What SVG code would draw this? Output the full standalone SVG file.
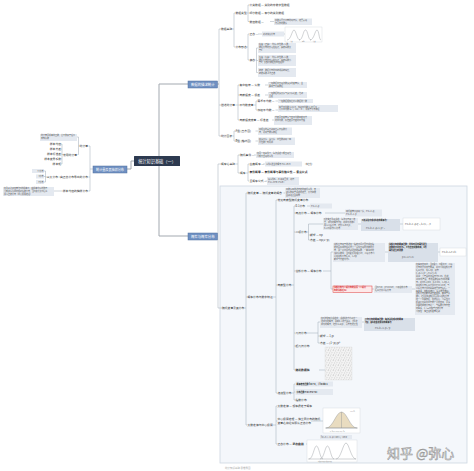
<svg xmlns="http://www.w3.org/2000/svg" width="474" height="471" viewBox="0 0 474 471">
<style>
text{font-family:"Noto Sans CJK SC","Noto Sans",sans-serif;}
.ln{stroke:#9ea8b4;stroke-width:0.5;fill:none}
.lm{stroke:#a3a9b0;stroke-width:1;fill:none}
.t{font-size:2.8px;fill:#333}
.tb{font-size:2.8px;fill:#222;font-weight:bold}
.bx{fill:#e4e9f0}
.bb{fill:#d9e0e9}
.bt{font-size:2px;fill:#555}
.btb{font-size:2px;fill:#222;font-weight:bold}
.img{fill:#fff;stroke:#cfd5dc;stroke-width:0.4}
.cv{fill:none;stroke:#8a8f96;stroke-width:0.4}
.br rect{fill:#6f90c2;stroke:#52709f;stroke-width:0.5}
.br text{font-size:3.4px;fill:#fff;text-anchor:middle}
</style>
<defs>
<pattern id="noise" width="5" height="5" patternUnits="userSpaceOnUse">
<rect width="5" height="5" fill="#f2f2f2"/>
<circle cx="0.7" cy="0.9" r="0.35" fill="#9a9a9a"/><circle cx="3.1" cy="0.4" r="0.3" fill="#777"/>
<circle cx="2.0" cy="2.3" r="0.35" fill="#aaa"/><circle cx="4.3" cy="2.9" r="0.3" fill="#888"/>
<circle cx="1.1" cy="4.1" r="0.3" fill="#999"/><circle cx="3.6" cy="4.4" r="0.35" fill="#b0b0b0"/>
</pattern>
</defs>
<rect width="474" height="471" fill="#fff"/>
<rect x="220" y="186" width="247" height="277" fill="#f4f7fb" stroke="#cdd6e1" stroke-width="0.8"/>

<g id="connectors">
<path class="lm" d="M134,161H131V169H127M159,84V236M159,84H188M159,236H188M217.5,84H219M217.5,236H218"/>
<path class="ln" d="M93,169H90M90,146V191M90,146H88.5M90,177H88.5M90,191H88.5
M79.5,146H78.5M78.5,137V154.5M78.5,137H77M78.5,154.5H77.5M63,154.5H62M62,144V164M62,144H61M62,149H61M62,154H61M62,159H61M62,164H61
M60,177H58.5M47,177H45.5M45.5,171V182M45.5,171H44M45.5,176.5H44M45.5,182H44M62.5,191H54
M219,29V136M219,29H221M219,105H221M219,136H221
M232.5,29H234M234,13V47M234,13H235.5M234,47H235.5
M247,13H248M248,5V21.5M248,5H249.5M248,13H249.5M248,21.5H249.5M270,21.5H274
M247,47H248M248,34V60M248,34H249.5M248,60H249.5M258,34H262M284,34H285
M255.5,60H256.5M256.5,48V72.5M256.5,48H258M256.5,60.5H258M256.5,72.5H258
M235.5,105H238M238,85V120M238,85H239.5M238,95H239.5M238,105H239.5M238,120H239.5
M265,85H268M265,95H268M254,105H256M256,101V110M256,101H257.5M256,110H257.5M275.5,101H278M275.5,110H278M272,120H274
M232.5,136H234M234,131V141M234,131H235.5M234,141H235.5M255.5,131H258M255.5,141H258
M218,164V308M218,164H221M218,308H222
M235.5,164H238M238,155V173M238,155H240M238,173H240M254,155H256
M246,173H248M248,164V181M248,164H249.5M248,172H249.5M248,181H249.5M263,164H265M265.5,181H267
M244.5,308H246M246,193V425M246,193H247.5M246,297H247.5M246,425H247.5M283.5,193H285
M273,297H276M276,200V393M276,200H277.5M276,285H277.5M276,393H277.5
M292,285H294M294,206V370M294,206H295.5M294,213H295.5M294,232H295.5M294,271H295.5M294,333H295.5M294,346H295.5M294,370H295.5
M307,206H310M325,213H345
M307,232H308.5M308.5,224V240M308.5,224H323M308.5,235H310M308.5,240H310M358,224H361M400,224H403
M323,271H331M331,252V289M331,252H333M331,289H333M385,252H388M438,252H440M372,289H374M412,289H415
M307,333H318M318,322V343M318,322H320M318,336H320M318,343H320M362,322H364
M319,370H325
M292,393H294M294,384V400M294,384H295.5M294,392H295.5M294,400H295.5
M273,425H276M276,406V444M276,406H277.5M276,421H277.5M276,444H277.5M311,421H323M306,444H307"/>
</g>

<g id="root"><rect x="134" y="156" width="46" height="10" fill="#2d3a50" rx="0.5"/><text x="157" y="162.6" style="font-size:4.2px;fill:#fff;text-anchor:middle">统计知识基础（一）</text></g>
<g id="b-top" class="br"><rect x="188" y="81" width="29.5" height="7"/><text x="202.75" y="85.7">数据的描述统计</text></g>
<g id="b-bottom" class="br"><rect x="188" y="233" width="29.5" height="7"/><text x="202.75" y="237.7">概率与概率分布</text></g>
<g id="b-left" class="br"><rect x="93" y="166" width="34" height="7"/><text x="110" y="170.7" style="font-size:3.1px">统计量及其抽样分布</text></g>

<g id="left-nodes">
<g id="l1"><text class="t" x="88" y="147" text-anchor="end">统计量</text></g>
<g id="l1a"><rect class="bx" x="40" y="134" width="37" height="7"/><text class="bt" x="41" y="136.4"><tspan>统计量是样本的函数，它不依赖于任何</tspan><tspan x="41" dy="2.9">未知参数</tspan></text></g>
<g id="l1b"><text class="t" x="77" y="155.5" text-anchor="end">常用统计量</text></g>
<g id="l1b-c"><text class="t" x="61" y="145" text-anchor="end">样本均值</text><text class="t" x="61" y="150" text-anchor="end">样本方差</text><text class="t" x="61" y="155" text-anchor="end">样本标准差</text><text class="t" x="61" y="160" text-anchor="end">样本变异系数</text><text class="t" x="61" y="165" text-anchor="end">样本矩</text></g>
<g id="l2"><text class="t" x="88" y="178" text-anchor="end">由正态分布导出的分布</text></g>
<g id="l2a"><text class="t" x="58" y="178" text-anchor="end">三大分布</text></g>
<g id="l2b"><rect class="bx" x="32" y="169" width="12" height="4"/><text class="bt" x="43.5" y="171.7" text-anchor="end">χ²分布</text><rect class="bx" x="36" y="174.5" width="8" height="4"/><text class="bt" x="43.5" y="177.2" text-anchor="end">t分布</text><rect class="bx" x="36" y="180" width="8" height="4"/><text class="bt" x="43.5" y="182.7" text-anchor="end">F分布</text></g>
<g id="l3"><text class="t" x="88" y="192" text-anchor="end">样本均值的抽样分布</text></g>
<g id="l3a"><rect class="bx" x="3" y="187" width="51" height="9"/><text class="bt" x="4" y="189.3"><tspan>在重复选取容量为n的样本时，由样本均值的所有</tspan><tspan x="4" dy="2.9">可能取值形成的相对频数分布，当n充分大时近似</tspan><tspan x="4" dy="2.9">服从正态分布（中心极限定理）</tspan></text></g>
</g>

<g id="top-nodes">
<g id="t1"><text class="t" x="221" y="30">数据基础</text></g>
<g id="t1a"><text class="t" x="235.5" y="14">数据类型</text></g>
<g id="t1a1"><text class="t" x="249.5" y="6">分类数据 — 类别的非数字型数据</text></g>
<g id="t1a2"><text class="t" x="249.5" y="14">顺序数据 — 有序的类别数据</text></g>
<g id="t1a3"><text class="t" x="249.5" y="22.5">数值数据 —</text><rect class="bx" x="274" y="18.5" width="38" height="6.5"/><text class="bt" x="275" y="20.9"><tspan>按数字尺度测量的观察值，结果表现</tspan><tspan x="275" dy="2.9">为具体的数值</tspan></text></g>
<g id="t1b"><text class="t" x="235.5" y="48">分布形态</text></g>
<g id="t1b1"><text class="t" x="249.5" y="35">正态 —</text><rect class="bx" x="262" y="31.5" width="22" height="5"/><text class="bt" x="263" y="34.7">对称钟形分布</text>
<rect class="img" x="285" y="27" width="37" height="15"/>
<path class="cv" d="M287,40C291,40 292,30 294,30S297,40 300,40M299,40C303,40 303,30 305.5,30S308,40 311,40M310,40C314,40 315,30 317,30S319,40 321,40"/>
<text x="290" y="41.6" style="font-size:1.3px;fill:#777">左偏</text><text x="302" y="41.6" style="font-size:1.3px;fill:#777">对称</text><text x="313" y="41.6" style="font-size:1.3px;fill:#777">右偏</text></g>
<g id="t1b2"><text class="t" x="249.5" y="61">偏态</text></g>
<g id="t1b2a"><rect class="bx" x="258" y="43" width="38" height="10"/><text class="bt" x="259" y="45.4"><tspan>右偏（正偏）：均值&gt;中位数&gt;众数，</tspan><tspan x="259" dy="2.9">数据分布的长尾在右边，偏态系数大</tspan><tspan x="259" dy="2.9">于0</tspan></text></g>
<g id="t1b2b"><rect class="bx" x="258" y="55" width="38" height="11"/><text class="bt" x="259" y="57.6"><tspan>左偏（负偏）：均值&lt;中位数&lt;众数，</tspan><tspan x="259" dy="2.9">数据分布的长尾在左边，偏态系数小</tspan><tspan x="259" dy="2.9">于0，大部分数据集中在右侧</tspan></text></g>
<g id="t1b2c"><rect class="bx" x="258" y="68" width="38" height="9"/><text class="bt" x="259" y="70.6"><tspan>峰态：数据分布的平峰或尖峰程度，</tspan><tspan x="259" dy="2.9">峰态系数=0为正态</tspan></text></g>
<g id="t2"><text class="t" x="221" y="106">描述统计量</text></g>
<g id="t2a"><text class="t" x="239.5" y="86">集中趋势 — 众数</text><rect class="bx" x="268" y="82" width="39" height="6"/><text class="bt" x="269" y="84.3"><tspan>一组数据中出现次数最多的变量值，主</tspan><tspan x="269" dy="2.9">要用于分类数据</tspan></text></g>
<g id="t2b"><text class="t" x="239.5" y="96">离散程度 — 极差</text><rect class="bx" x="268" y="92" width="39" height="6"/><text class="bt" x="269" y="94.3"><tspan>一组数据的最大值与最小值之差，也称</tspan><tspan x="269" dy="2.9">全距</tspan></text></g>
<g id="t2c"><text class="t" x="239.5" y="106">平均数度量</text></g>
<g id="t2c1"><text class="t" x="257.5" y="102">算术平均数 —</text><rect class="bx" x="278" y="99" width="35" height="4"/><text class="bt" x="279" y="101.7">一组数据相加后除以数据的个数</text></g>
<g id="t2c2"><text class="t" x="257.5" y="111">加权平均数 —</text><rect class="bx" x="278" y="105" width="60" height="7"/><text class="bt" x="279" y="107.5"><tspan>简单平均数 x̄=Σxᵢ/n，加权平均数 x̄=ΣMᵢfᵢ/n</tspan><tspan x="279" dy="2.9">几何平均数 G=ⁿ√(x₁x₂…xₙ)，适用于比率数据</tspan></text></g>
<g id="t2d"><text class="t" x="239.5" y="121">离散程度度量 — 标准差</text><rect class="bx" x="274" y="116" width="38" height="9"/><text class="bt" x="275" y="118.4"><tspan>方差是各变量值与其平均数离差平方</tspan><tspan x="275" dy="2.9">的平均数，标准差是方差的平方根</tspan></text></g>
<g id="t3"><text class="t" x="221" y="137">统计图表</text></g>
<g id="t3a"><text class="t" x="235.5" y="132">A型 (直方图)</text><rect class="bx" x="258" y="127.5" width="34" height="7.5"/><text class="bt" x="259" y="130"><tspan>用矩形的宽度和高度表示频数分</tspan><tspan x="259" dy="2.9">布，适用于数值数据</tspan></text></g>
<g id="t3b"><text class="t" x="235.5" y="142">B型 (箱线图)</text><rect class="bx" x="258" y="137.5" width="37" height="7.5"/><text class="bt" x="259" y="140"><tspan>由最大值、最小值、中位数和两个四</tspan><tspan x="259" dy="2.9">分位数绘制而成</tspan></text></g>
</g>

<g id="prob-nodes">
<g id="e1"><text class="t" x="221" y="165">概率论基础</text></g>
<g id="e1a"><text class="t" x="240" y="156">随机事件 —</text><rect class="bx" x="256" y="152" width="38" height="6"/><text class="bt" x="257" y="154.3"><tspan>在同一组条件下，每次试验可能出现也</tspan><tspan x="257" dy="2.9">可能不出现的事件</tspan></text></g>
<g id="e1b"><text class="t" x="240" y="174">概率</text></g>
<g id="e1b1"><text class="t" x="249.5" y="165">古典概率 —</text><rect class="bx" x="265" y="161.5" width="37" height="5"/><text class="bt" x="266" y="164.7">事件A发生的概率 P(A)=m/n</text><text class="bt" x="305" y="164.7">(独立性)</text></g>
<g id="e1b2"><text class="tb" x="249.5" y="173">条件概率 — 条件概率与事件独立性 — 乘法公式</text></g>
<g id="e1b3"><text class="t" x="249.5" y="182">全概率公式 —</text><rect class="bx" x="267" y="177" width="32" height="8"/><text class="bt" x="268" y="179.6"><tspan>设事件B₁…Bₙ两两互斥，则有</tspan><tspan x="268" dy="2.9">P(A)=ΣP(Bᵢ)P(A|Bᵢ)</tspan></text></g>
</g>

<g id="panel-nodes">
<g id="p0"><text class="t" x="222" y="309">随机变量及其分布</text></g>
<g id="p1"><text class="t" x="247.5" y="194">随机变量 — 随机变量的概念</text><rect class="bx" x="285" y="188" width="35" height="10"/><text class="bt" x="286" y="190.4"><tspan>用数值来描述特定的随机事件，其</tspan><tspan x="286" dy="2.9">取值依赖于试验的结果，分为离散</tspan><tspan x="286" dy="2.9">型和连续型两种</tspan></text></g>
<g id="p2"><text class="t" x="247.5" y="298">概率分布与数字特征</text></g>
<g id="q1"><text class="t" x="277.5" y="201">常见离散型随机变量分布</text></g>
<g id="q2"><text class="t" x="277.5" y="286">离散型分布</text></g>
<g id="r1"><text class="t" x="295.5" y="207">0-1分布</text><rect class="bx" x="310" y="203.5" width="22" height="5"/><text class="bt" x="311" y="206.7">P(X=1)=p</text></g>
<g id="r2"><text class="t" x="295.5" y="214">两点分布 — 概率分布</text><rect class="bx" x="345" y="209.5" width="37" height="7"/><text class="bt" x="346" y="212"><tspan>随机变量只取两个值，P(X=1)=p，</tspan><tspan x="346" dy="2.9">P(X=0)=1−p</tspan></text></g>
<g id="r3"><text class="t" x="295.5" y="233">二项分布</text><text class="t" x="310" y="236">期望 — np</text><text class="t" x="310" y="241">方差 — np(1−p)</text></g>
<g id="r3a"><rect class="bx" x="323" y="218" width="35" height="12"/><text class="bt" x="324" y="220.4"><tspan>n次独立重复试验，每次只有两个结</tspan><tspan x="324" dy="2.9">果，成功的概率为p，则成功次数X</tspan><tspan x="324" dy="2.9">服从二项分布，记作 X~B(n,p)，</tspan><tspan x="324" dy="2.9">n=1时即为0-1分布</tspan></text></g>
<g id="r3b"><rect class="bb" x="361" y="219" width="39" height="12"/><text class="btb" x="362" y="221.4"><tspan>n次试验中成功k次的概率为：</tspan></text><text class="bt" x="366" y="228.5">P(X=k)=Cₙᵏpᵏ(1−p)ⁿ⁻ᵏ</text></g>
<g id="r3c"><rect class="img" x="403" y="218" width="37" height="12"/><text x="405" y="224.8" style="font-size:2px;fill:#555">P(X=k)=Cₙᵏpᵏqⁿ⁻ᵏ, k=0,1,…,n</text></g>
<g id="r4"><text class="t" x="295.5" y="272">泊松分布 — 概率分布</text></g>
<g id="r4a"><rect class="bx" x="333" y="243" width="52" height="19"/><text class="bt" x="334" y="245.4"><tspan>泊松分布用于描述在一指定时间范围内或在指</tspan><tspan x="334" dy="2.9">定的面积或体积之内某一事件出现的次数的分</tspan><tspan x="334" dy="2.9">布，如一段时间内到达的顾客数、一本书中的</tspan><tspan x="334" dy="2.9">错别字数等；当n很大而p很小时，二项分布可</tspan><tspan x="334" dy="2.9">以用泊松分布近似，λ=np</tspan><tspan x="334" dy="2.9">期望与方差均为λ</tspan></text></g>
<g id="r4b"><rect class="bb" x="388" y="243" width="50" height="19"/><text class="btb" x="389" y="245.4"><tspan>泊松分布的概率函数：单位时间内事件发生</tspan><tspan x="389" dy="2.9">次数的平均值为λ，e为自然对数的底，x为</tspan><tspan x="389" dy="2.9">事件发生的次数</tspan></text><text class="bt" x="402" y="257.5">p(x)=λˣe⁻λ/x!</text></g>
<g id="r4c"><rect class="img" x="440" y="248" width="26" height="8"/><text x="442" y="252.7" style="font-size:2px;fill:#555">P(X=k)=λᵏe⁻λ/k!</text></g>
<g id="r4d"><rect x="333" y="286" width="39" height="6.5" fill="#fde9e9" stroke="#e03a3a" stroke-width="0.5"/><text x="334" y="288.4" style="font-size:2px;fill:#d42a2a;font-weight:bold"><tspan>泊松分布与二项分布的关系（二项分</tspan><tspan x="334" dy="2.9">布的泊松近似）</tspan></text></g>
<g id="r4e"><rect class="bx" x="374" y="286" width="38" height="7"/><text class="bt" x="375" y="288.4"><tspan>当n≥20，p≤0.05时，可用泊松分布</tspan><tspan x="375" dy="2.9">近似计算二项分布</tspan></text></g>
<g id="r4f"><rect class="bx" x="415" y="263" width="40" height="52"/><text class="bt" x="416" y="265.4"><tspan>在实际应用中，当p很小，n很大时，二项</tspan><tspan x="416" dy="2.9">分布的计算非常繁琐，此时可用泊松分布</tspan><tspan x="416" dy="2.9">近似计算，令λ=np，则有</tspan><tspan x="416" dy="2.9">Cₙᵏpᵏ(1−p)ⁿ⁻ᵏ≈λᵏe⁻λ/k!</tspan><tspan x="416" dy="2.9">例如：某产品的次品率为0.1%，检验</tspan><tspan x="416" dy="2.9">1000件产品，求次品数恰好为2件的概</tspan><tspan x="416" dy="2.9">率。此时n=1000，p=0.001，λ=np=1，</tspan><tspan x="416" dy="2.9">用泊松分布近似计算得P≈0.1839，与</tspan><tspan x="416" dy="2.9">二项分布计算的精确结果非常接近。一</tspan><tspan x="416" dy="2.9">般来说，n越大p越小，近似效果越好；</tspan><tspan x="416" dy="2.9">泊松分布的期望和方差相等，都等于参</tspan><tspan x="416" dy="2.9">数λ，这是判断数据是否服从泊松分布</tspan><tspan x="416" dy="2.9">的一个重要依据，在排队论、可靠性分</tspan><tspan x="416" dy="2.9">析和保险精算中有着广泛的应用，是最</tspan><tspan x="416" dy="2.9">重要的离散分布之一，与指数分布有密</tspan><tspan x="416" dy="2.9">切联系，λ→∞时趋于正态分布</tspan><tspan x="416" dy="2.9">可加性：独立泊松变量之和</tspan></text></g>
<g id="r5"><text class="t" x="295.5" y="334">几何分布</text><text class="t" x="320" y="337">期望 — 1/p</text><text class="t" x="320" y="344">方差 — (1−p)/p²</text></g>
<g id="r5a"><rect class="bx" x="320" y="317" width="42" height="11"/><text class="bt" x="321" y="319.4"><tspan>在n次伯努利试验中，试验k次才得到第一</tspan><tspan x="321" dy="2.9">次成功的概率，即前k−1次皆失败，第k次</tspan><tspan x="321" dy="2.9">成功的概率，记作 X~G(p)，具有无记忆性</tspan></text></g>
<g id="r5b"><rect class="bb" x="364" y="318" width="51" height="13"/><text class="btb" x="365" y="320.4"><tspan>几何分布的概率函数：每次试验成功的概率</tspan><tspan x="365" dy="2.9">为p，第k次首次成功的概率为</tspan></text><text class="bt" x="375" y="328.6">P(X=k)=(1−p)ᵏ⁻¹p</text></g>
<g id="r6"><text class="t" x="295.5" y="347">超几何分布</text></g>
<g id="r7"><text class="tb" x="295.5" y="371">随机数模拟</text><rect x="325" y="347" width="27" height="33" fill="url(#noise)" stroke="#d8d8d8" stroke-width="0.3"/></g>
<g id="q3"><text class="t" x="277.5" y="394">连续型分布</text><rect class="bx" x="295.5" y="381.5" width="37.5" height="5"/><text class="btb" x="296.5" y="384.7">概率密度函数 f(x)≥0，∫f(x)dx=1</text><rect class="bx" x="295.5" y="389" width="37.5" height="6"/><text class="btb" x="296.5" y="392.6">分布函数 F(x)=P(X≤x)</text><text class="t" x="295.5" y="401">指数分布</text></g>
<g id="p3"><text class="t" x="247.5" y="426">大数定律与中心极限</text></g>
<g id="p3a"><text class="t" x="277.5" y="407">大数定律 — 频率稳定于概率</text></g>
<g id="p3b"><text class="t" x="277.5" y="419.5"><tspan>中心极限定理 — 独立同分布的随机</tspan><tspan x="277.5" dy="4.1">变量之和近似服从正态分布</tspan></text>
<rect class="img" x="323" y="408" width="37" height="25"/>
<path d="M326,428C333,428 336,412 341.5,412S350,428 357,428Z" fill="#e9dcc0" stroke="#8a8f96" stroke-width="0.4"/>
<path class="cv" d="M325,428H358M341.5,412V428"/>
<text x="330" y="431.5" style="font-size:1.5px;fill:#777">μ−3σ  μ−σ  μ  μ+σ  μ+3σ</text>
<text x="350" y="411.5" style="font-size:1.4px;fill:#777">68.27%</text></g>
<g id="p3c"><text class="t" x="277.5" y="445">正态分布 — </text><text class="tb" x="292.5" y="445">正态曲线</text>
<rect class="bx" x="320" y="435" width="32" height="4"/><text class="bt" x="321" y="437.7">f(x)=e^(−(x−μ)²/2σ²)/√(2π)σ</text>
<rect class="img" x="307" y="440" width="50" height="22"/>
<path class="cv" d="M309,459C313,459 314,446 316.5,446S320,459 323,459M320,459C324,459 325,446 327.5,446S331,459 334,459M336,459C341,459 343,443 346,443S351,459 356,459"/>
<path class="cv" d="M308,459H356"/>
<text x="318" y="461.6" style="font-size:1.3px;fill:#777">σ相同μ不同    μ相同σ不同</text></g>
</g>

<text x="225" y="468.5" style="font-size:2.5px;fill:#aaa">统计知识基础 思维导图</text>
<text x="387" y="458" style="font-size:13px;fill:#f2f2f2;stroke:#8f8f8f;stroke-width:0.5">知乎 @弥心</text>
</svg>
